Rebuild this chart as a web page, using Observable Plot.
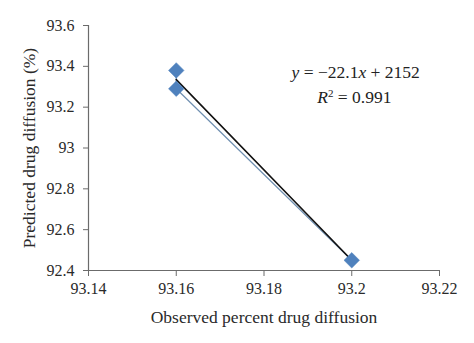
<!DOCTYPE html>
<html>
<head>
<meta charset="utf-8">
<script src="https://cdn.jsdelivr.net/npm/d3@7"></script>
<script src="https://cdn.jsdelivr.net/npm/@observablehq/plot@0.6"></script>
<style>
  html, body { margin: 0; padding: 0; background: #fff; }
  #chart svg { display: block; }
  #chart svg text { font-family: 'Liberation Serif', 'DejaVu Serif', serif !important; font-variant: normal !important; }
</style>
</head>
<body>
<div id="chart"></div>
<script>
const observed = [93.16, 93.16, 93.2];
const predicted = [93.38, 93.29, 92.45];
const xTicks = [93.14, 93.16, 93.18, 93.2, 93.22];
const yTicks = [92.4, 92.6, 92.8, 93, 93.2, 93.4, 93.6];
const annotX = [93.2009, 93.2006];
const annotY = [93.37, 93.25];
const annotText = ["y = −22.1x + 2152", "R2 = 0.991"];

const pts = observed.map((x, i) => ({x, y: predicted[i]}));
const notes = annotText.map((t, i) => ({x: annotX[i], y: annotY[i], t}));

const font = "'Liberation Serif', 'DejaVu Serif', serif";
const axisColor = "#6b6b6b";

const chart = Plot.plot({
  width: 474,
  height: 343,
  marginLeft: 88,
  marginRight: 35,
  marginTop: 25,
  marginBottom: 73,
  style: {fontFamily: font, fontSize: "16px", color: "#2a2a2a", background: "#fff"},
  x: {domain: [93.14, 93.22], ticks: xTicks},
  y: {domain: [92.4, 93.6], ticks: yTicks},
  marks: [
    Plot.axisX({ticks: xTicks, tickSize: 6, tickPadding: 6, stroke: axisColor, fontSize: 16, fontFamily: font,
      tickFormat: d => String(+d.toFixed(2)),
      label: "Observed percent drug diffusion", labelAnchor: "center", labelArrow: "none", labelOffset: 52}),
    Plot.axisY({ticks: yTicks, tickSize: 5, tickPadding: 9, stroke: axisColor, fontSize: 16, fontFamily: font,
      tickFormat: d => String(+d.toFixed(1)),
      label: "Predicted drug diffusion (%)", labelAnchor: "center", labelArrow: "none", labelOffset: 66}),
    Plot.ruleX([93.14], {stroke: axisColor, strokeWidth: 1.2}),
    Plot.ruleY([92.4], {stroke: axisColor, strokeWidth: 1.2}),
    Plot.line(pts, {x: "x", y: "y", stroke: "#6f8fb0", strokeWidth: 1.2}),
    Plot.linearRegressionY(pts, {x: "x", y: "y", stroke: "#111", strokeWidth: 1.6, ci: 0}),
    Plot.dot(pts, {x: "x", y: "y", symbol: "diamond2", r: 7, fill: "#4f81bd", stroke: "#4f81bd", strokeWidth: 0.5}),
    Plot.text(notes, {x: "x", y: "y", text: "t", fontSize: 17.5, fill: "#222", fontFamily: font})
  ]
});

document.getElementById("chart").appendChild(chart);

// axis labels slightly larger than ticks
d3.select(chart).selectAll("g[aria-label='x-axis label'] text, g[aria-label='y-axis label'] text")
  .attr("font-size", "17.5px");

// style annotation text with italics / superscript
d3.select(chart).selectAll("text").each(function() {
  const el = d3.select(this);
  const s = el.text();
  if (s === annotText[0]) {
    el.text(null);
    el.append("tspan").attr("font-style", "italic").text("y");
    el.append("tspan").text(" = −22.1");
    el.append("tspan").attr("font-style", "italic").text("x");
    el.append("tspan").text(" + 2152");
  } else if (s === annotText[1]) {
    el.text(null);
    el.append("tspan").attr("font-style", "italic").text("R");
    el.append("tspan").attr("font-size", "11px").attr("dy", "-0.5em").text("2");
    el.append("tspan").attr("dy", "0.35em").text(" = 0.991");
  }
});
</script>
</body>
</html>
